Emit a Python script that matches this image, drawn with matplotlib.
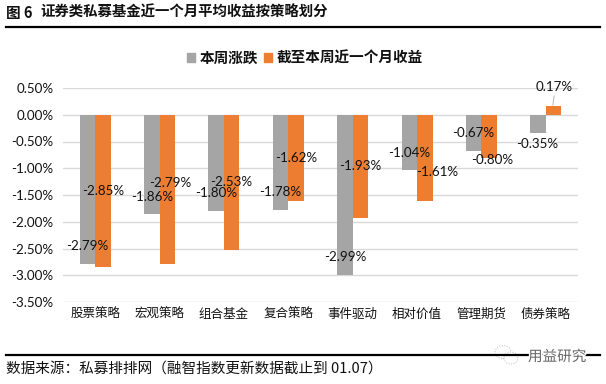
import numpy as np
import matplotlib
matplotlib.use("Agg")
from matplotlib import pyplot as plt
from matplotlib import patheffects
from matplotlib.lines import Line2D
from matplotlib.patches import Ellipse, Patch

plt.rcParams['font.family'] = ['Noto Sans CJK SC', 'DejaVu Sans']

categories = ['股票策略', '宏观策略', '组合基金', '复合策略', '事件驱动', '相对价值', '管理期货', '债券策略']
week_change = [-2.79, -1.86, -1.80, -1.78, -2.99, -1.04, -0.67, -0.35]
month_return = [-2.85, -2.79, -2.53, -1.62, -1.93, -1.61, -0.80, 0.17]
y_ticks = [0.5, 0, -0.5, -1, -1.5, -2, -2.5, -3, -3.5]

# label centres in reference pixels
week_label_px = [(87, 246), (152, 197), (216, 193), (280, 192), (345, 257), (409, 153), (473, 133), (537, 144)]
month_label_px = [(103, 191), (170, 183), (231, 182), (296, 158), (360, 166), (437, 172), (492, 160), (554, 87)]

W, H = 606, 384
GREY = '#A5A5A5'
ORANGE = '#ED7D31'
NUM_FONT = ['Lato', 'Noto Sans CJK SC']
NUM_SIZE = 9.6


def fx(px):
    return px / W


def fy(px):
    return 1 - px / H


fig = plt.figure(figsize=(W / 100, H / 100), dpi=100, facecolor='white')
ax = fig.add_axes([fx(63), fy(302), fx(578 - 63), (302 - 88) / H])

x = np.arange(len(categories))
width = 0.24
ax.bar(x - width / 2, week_change, width, color=GREY, zorder=3)
ax.bar(x + width / 2, month_return, width, color=ORANGE, zorder=3)

ax.set_xlim(-0.5, len(categories) - 0.5)
ax.set_ylim(-3.5, 0.5)
ax.set_yticks(y_ticks)
ax.set_yticklabels(['%.2f%%' % v for v in y_ticks], family=NUM_FONT, fontsize=NUM_SIZE, color='#111111')
ax.set_xticks(x)
ax.set_xticklabels(categories, fontsize=9, color='#111111')
ax.tick_params(length=0)
ax.tick_params(axis='y', pad=7)
ax.tick_params(axis='x', pad=4)
ax.grid(axis='y', color='#D9D9D9', lw=1, zorder=0)
ax.set_axisbelow(True)
for s in ax.spines.values():
    s.set_visible(False)

for i in range(len(categories)):
    ax.annotate('%.2f%%' % week_change[i], xy=(x[i] - width / 2, week_change[i]),
                xytext=(fx(week_label_px[i][0]), fy(week_label_px[i][1])), textcoords='figure fraction',
                ha='center', va='center', family=NUM_FONT, fontsize=NUM_SIZE, color='#111111', zorder=5)
    ax.annotate('%.2f%%' % month_return[i], xy=(x[i] + width / 2, month_return[i]),
                xytext=(fx(month_label_px[i][0]), fy(month_label_px[i][1])), textcoords='figure fraction',
                ha='center', va='center', family=NUM_FONT, fontsize=NUM_SIZE, color='#111111', zorder=5)

# leader line on the only positive label
fig.add_artist(Line2D([fx(553), fx(554)], [fy(105), fy(96)], color='#BFBFBF', lw=0.8))

fig.legend(handles=[Patch(color=GREY, label='本周涨跌'), Patch(color=ORANGE, label='截至本周近一个月收益')],
           loc='center', bbox_to_anchor=(fx(305), fy(58)), ncol=2, frameon=False, handlelength=0.55, handleheight=0.55,
           handletextpad=0.35, columnspacing=0.35, borderpad=0, prop={'size': 10.5, 'weight': 'bold'}, labelcolor='#111111')

# header and footer
fig.text(fx(6), fy(13), '图 6', fontsize=10.5, fontweight='bold', va='center', color='#111111')
fig.text(fx(40), fy(13), '证券类私募基金近一个月平均收益按策略划分', fontsize=10.4, fontweight='bold', va='center', color='#111111')
fig.add_artist(Line2D([fx(6), fx(600)], [fy(27), fy(27)], color='black', lw=1.6))
fig.add_artist(Line2D([fx(6), fx(600)], [fy(355), fy(355)], color='black', lw=1.6))
fig.text(fx(6), fy(369), '数据来源：私募排排网（融智指数更新数据截止到 01.07）', fontsize=10.5, va='center', color='#111111')

# watermark
halo = [patheffects.withStroke(linewidth=2, foreground='white')]
fig.add_artist(Ellipse((fx(503), fy(352)), 16 / W, 13 / H, fc='white', ec='#BBBBBB', lw=0.7, ls=':', transform=fig.transFigure))
fig.add_artist(Ellipse((fx(511), fy(358)), 14 / W, 12 / H, fc='white', ec='#BBBBBB', lw=0.7, ls=':', transform=fig.transFigure))
fig.text(fx(528), fy(357), '用益研究', fontsize=10.5, va='center', color='#666666', path_effects=halo)

fig.savefig('out.png', dpi=100)
